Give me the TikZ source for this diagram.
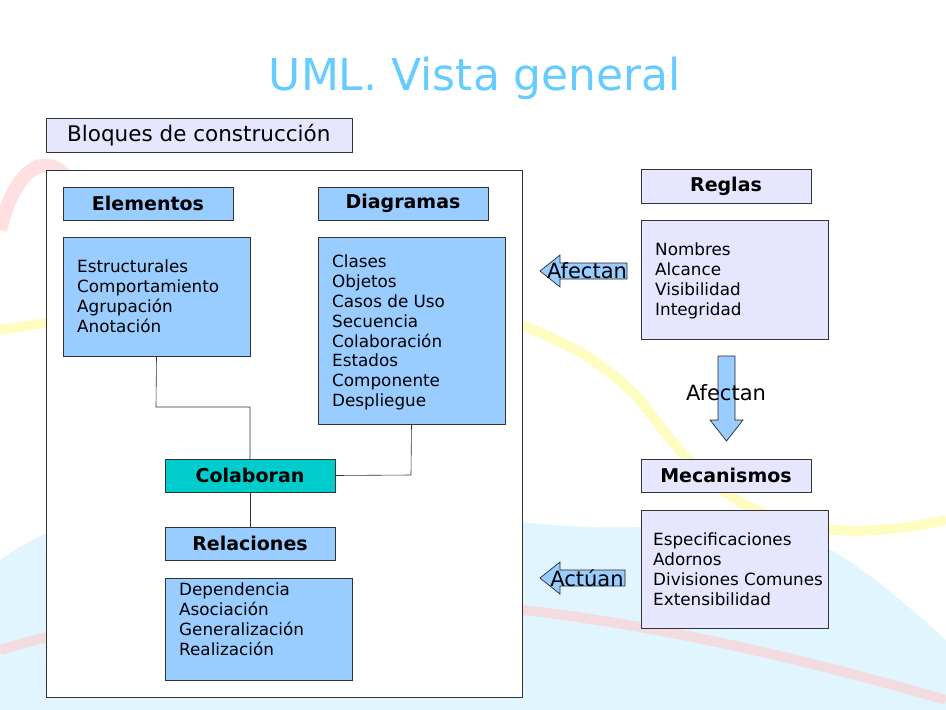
\documentclass[tikz,border=0pt]{standalone}
\usepackage{fontspec}
\setmainfont{DejaVu Sans}
\begin{document}
\begin{tikzpicture}[x=1pt,y=-1pt,
  hdr/.style={draw=black!80,fill=#1,font=\bfseries\fontsize{19}{22}\selectfont,inner sep=0pt},
  lst/.style={draw=black!80,fill=#1,inner sep=0pt},
  txt/.style={anchor=north west,font=\fontsize{16.8}{19.8}\selectfont,align=left,inner sep=0pt},
  ln/.style={draw=black!80,line width=0.6pt},
  bigarrow/.style={draw=black!85,fill=blue1,line width=0.7pt}]
\definecolor{blue1}{HTML}{99CCFF}
\definecolor{lav}{HTML}{E6E6FF}
\definecolor{teal1}{HTML}{00CCCC}
\definecolor{ttl}{HTML}{66CCFF}
\useasboundingbox (0,0) rectangle (946,710);
\fill[white] (0,0) rectangle (946,710);
% faint background waves
\draw[red!20,line width=14pt,opacity=0.6] (0,230) .. controls (20,150) and (60,150) .. (80,200);
\draw[yellow!40,line width=10pt,opacity=0.6] (0,330) .. controls (200,300) and (500,250) .. (640,400) .. controls (700,480) and (760,560) .. (946,520);
\fill[cyan!12] (0,560) .. controls (200,420) and (500,560) .. (700,520) .. controls (800,500) and (900,600) .. (946,640) -- (946,710) -- (0,710) -- cycle;
\draw[red!20,line width=10pt,opacity=0.6] (0,650) .. controls (300,560) and (600,600) .. (946,700);
% title
\node[text=ttl,font=\fontsize{44}{50}\selectfont] (title) at (475,78) {UML. Vista general};
% blocks
\node[draw=black!80,fill=lav,minimum width=306pt,minimum height=34pt,inner sep=0pt] (bloq) at (199,135) {};
\node[anchor=west,font=\fontsize{21.5}{24}\selectfont,inner sep=0pt] (bloqt) at (67,135) {Bloques de construcción};
\node[draw=black!80,fill=white,minimum width=476pt,minimum height=527pt,inner sep=0pt] (frame) at (284,433.5) {};
\node[hdr=blue1,minimum width=170pt,minimum height=33pt] (elem) at (148,203.5) {Elementos};
\node[hdr=blue1,minimum width=170pt,minimum height=33pt] (diag) at (403,203.5) {Diagramas};
\node[lst=blue1,minimum width=187pt,minimum height=119pt] (eleml) at (156.5,296.5) {};
\node[txt] (elemt) at (77,260) {Estructurales\\Comportamiento\\Agrupación\\Anotación};
\node[lst=blue1,minimum width=187pt,minimum height=187pt] (diagl) at (411.5,330.5) {};
\node[txt] (diagt) at (332,255) {Clases\\Objetos\\Casos de Uso\\Secuencia\\Colaboración\\Estados\\Componente\\Despliegue};
\node[hdr=teal1,minimum width=170pt,minimum height=33pt] (colab) at (250,475.5) {Colaboran};
\node[hdr=blue1,minimum width=170pt,minimum height=33pt] (rel) at (250,543.5) {Relaciones};
\node[lst=blue1,minimum width=187pt,minimum height=102pt] (rell) at (258.5,629) {};
\node[txt] (relt) at (179,583) {Dependencia\\Asociación\\Generalización\\Realización};
\coordinate (c1) at (156,407);
\coordinate (c2) at (250,407);
\coordinate (c3) at (411,475);
\draw[ln] (eleml.south) -- (c1) -- (c2) -- (colab.north);
\draw[ln] (diagl.south) -- (c3) -- (colab.east);
\draw[ln] (colab.south) -- (rel.north);
% right side
\node[hdr=lav,minimum width=170pt,minimum height=34pt] (reg) at (726,186) {Reglas};
\node[lst=lav,minimum width=187pt,minimum height=119pt] (regl) at (734.5,279.5) {};
\node[txt] (regt) at (655,243) {Nombres\\Alcance\\Visibilidad\\Integridad};
\node[hdr=lav,minimum width=170pt,minimum height=33pt] (mec) at (726,475.5) {Mecanismos};
\node[lst=lav,minimum width=187pt,minimum height=118pt] (mecl) at (734.5,569) {};
\node[txt] (mect) at (653,533) {Especificaciones\\Adornos\\Divisiones Comunes\\Extensibilidad};
% arrows
\draw[bigarrow] (540,271) -- (560,255) -- (560,263) -- (627,263) -- (627,279) -- (560,279) -- (560,287) -- cycle;
\node[font=\fontsize{21}{24}\selectfont] (af1) at (587,271) {Afectan};
\draw[bigarrow] (718,356) -- (735,356) -- (735,420) -- (743,420) -- (726.5,441) -- (710,420) -- (718,420) -- cycle;
\node[font=\fontsize{21}{24}\selectfont] (af2) at (726,393) {Afectan};
\draw[bigarrow] (540,578) -- (560,562) -- (560,570) -- (625,570) -- (625,586) -- (560,586) -- (560,594) -- cycle;
\node[font=\fontsize{21}{24}\selectfont] (act) at (587,578) {Actúan};
\end{tikzpicture}
\end{document}
